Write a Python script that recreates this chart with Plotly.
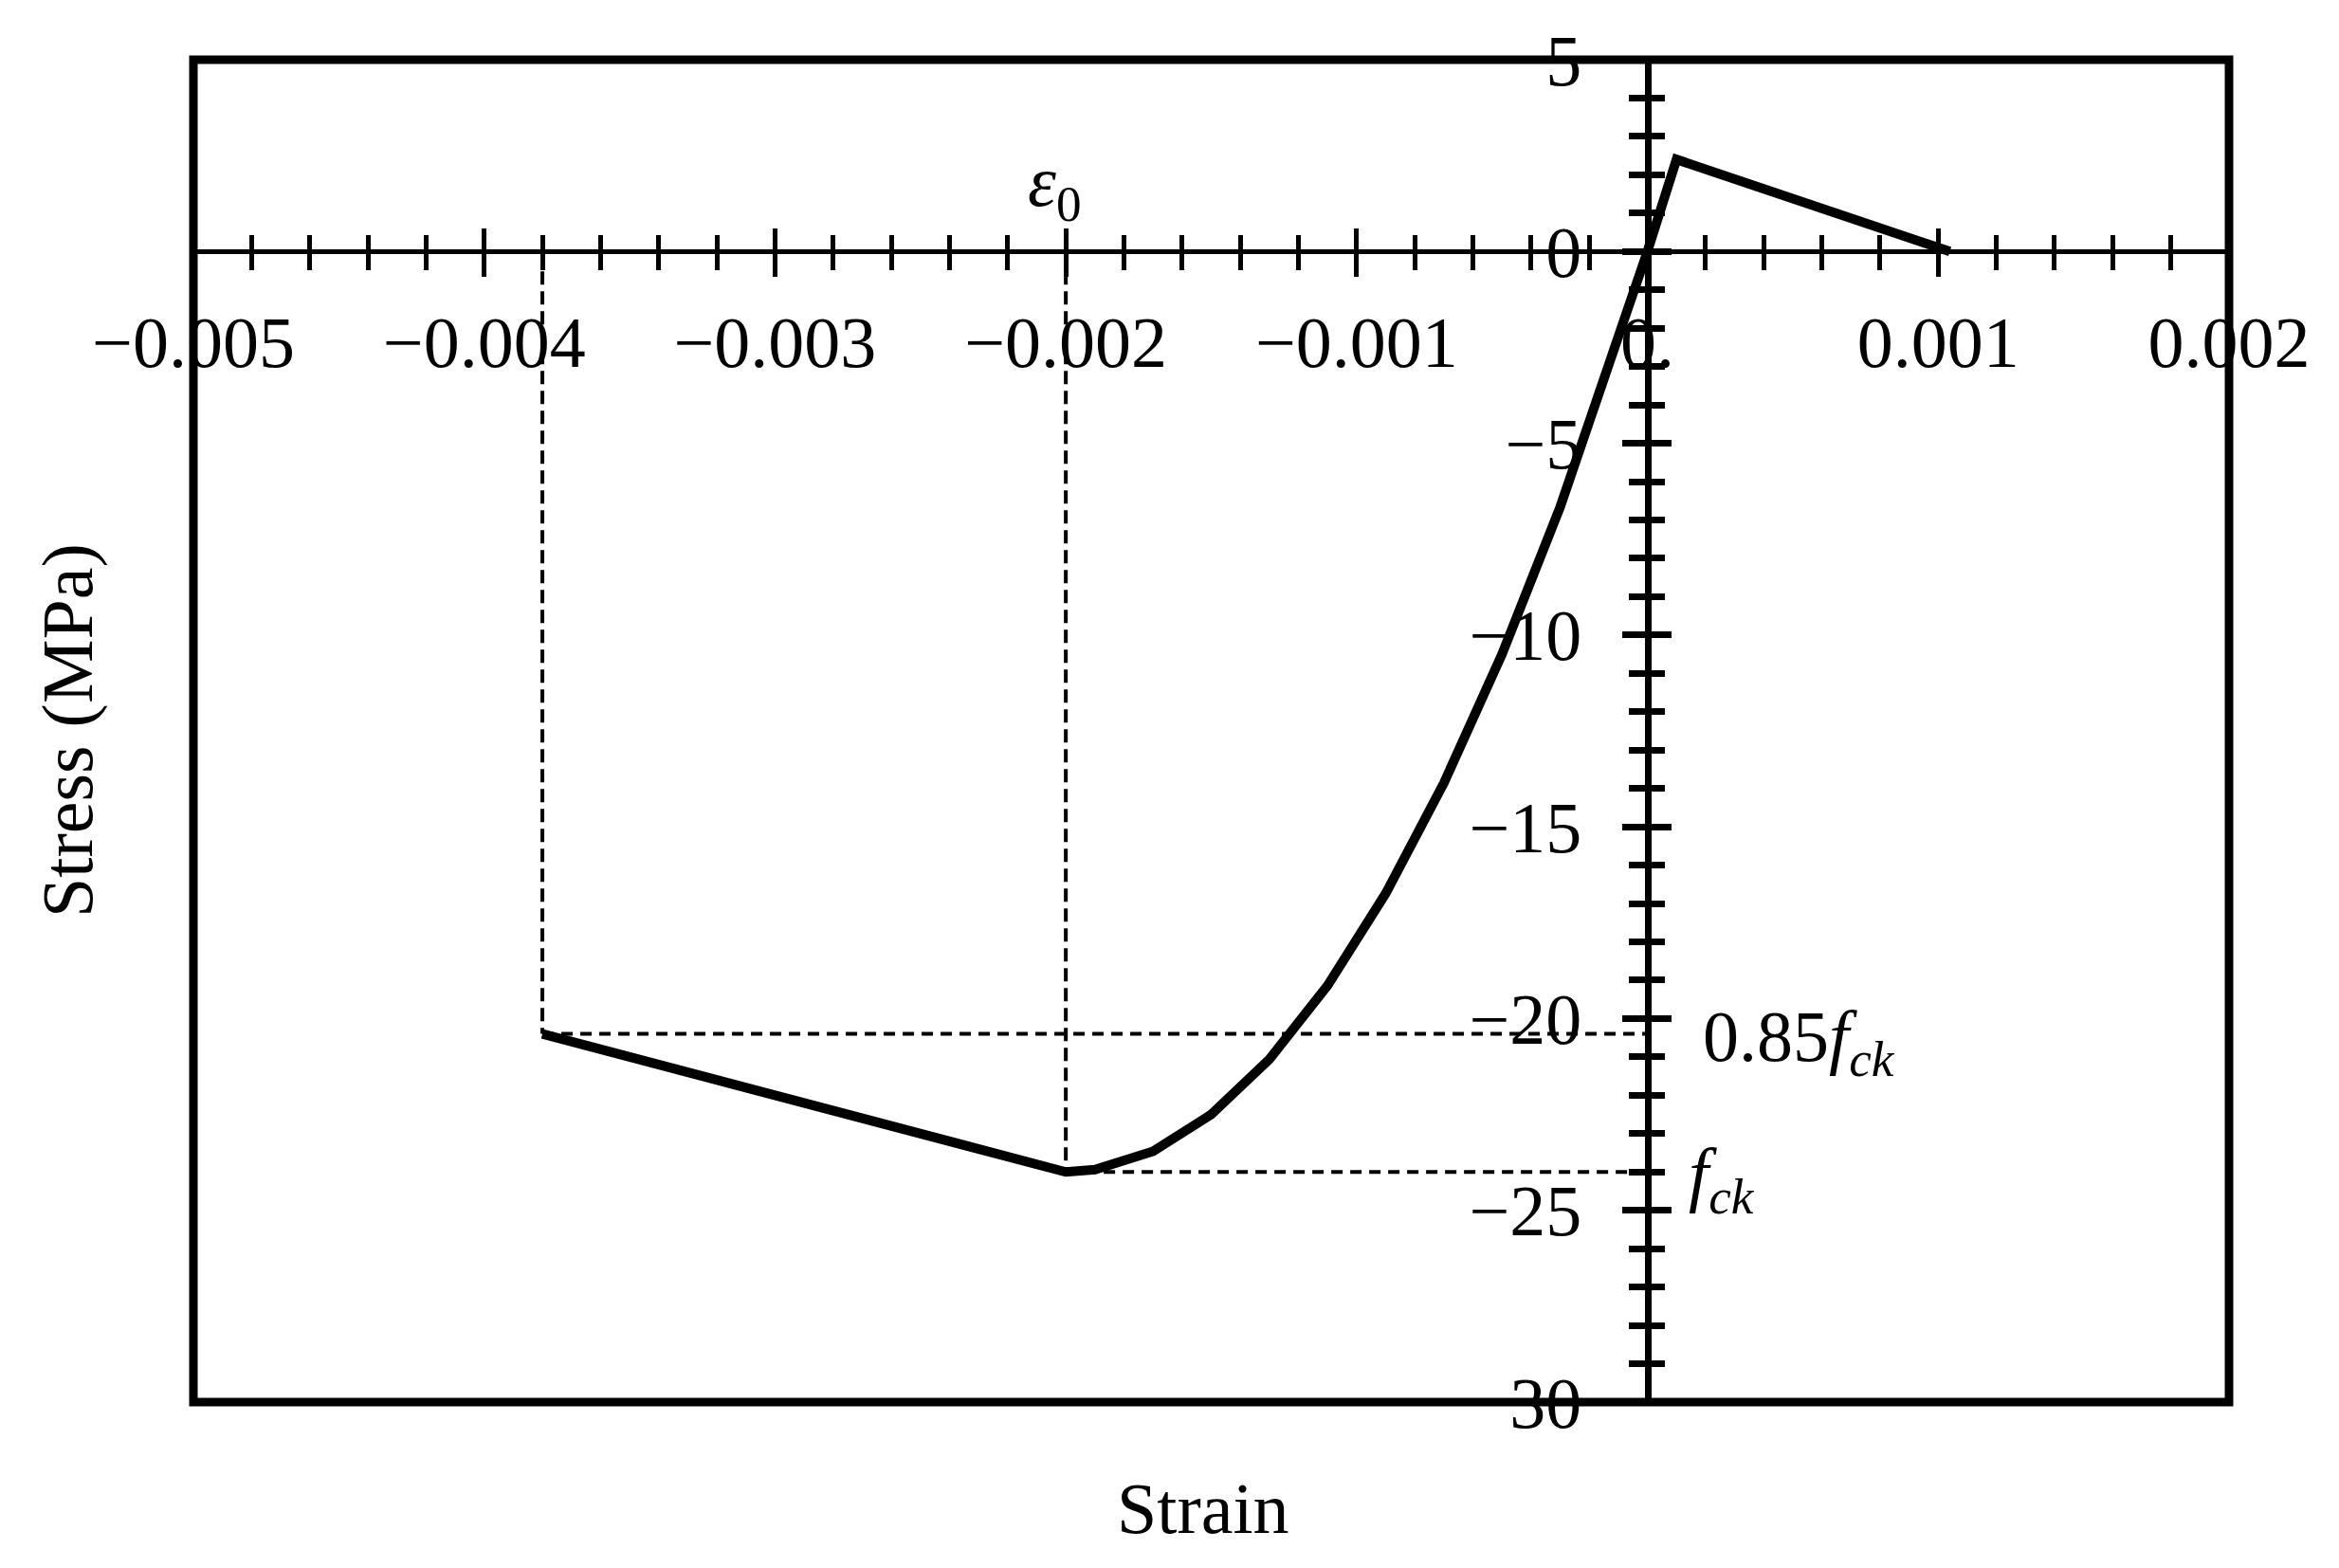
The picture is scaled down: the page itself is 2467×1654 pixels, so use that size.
import plotly.graph_objects as go

# ---------------- data ----------------
# stress-strain curve: compression branch (linear softening + parabola) and tension branch
curve_strain = [-0.0038, -0.0020, -0.0019, -0.0017, -0.0015, -0.0013, -0.0011,
                -0.0009, -0.0007, -0.0005, -0.0003, -0.0001, 0.0, 0.0001, 0.00104]
curve_stress = [-20.4, -24.0, -23.94, -23.46, -22.5, -21.06, -19.14,
                -16.74, -13.86, -10.5, -6.66, -2.34, 0.0, 2.4, 0.0]

eps_0 = -0.002      # strain at peak stress
eps_cu = -0.0038    # ultimate strain
f_ck = -24.0        # peak compressive stress
f_085 = -20.4       # 0.85 f_ck

x_tickvals = [-0.005, -0.004, -0.003, -0.002, -0.001, 0.0, 0.001, 0.002]
x_ticktext = ["\u22120.005", "\u22120.004", "\u22120.003", "\u22120.002", "\u22120.001", "0.", "0.001", "0.002"]
y_tickvals = [5, 0, -5, -10, -15, -20, -25, -30]
y_ticktext = ["5", "0", "\u22125", "\u221210", "\u221215", "\u221220", "\u221225", "\u221230"]

x_range = [-0.005, 0.002]
y_range = [-30, 5]

# ---------------- styling ----------------
W, H = 2451, 1638          # page body adds an 8 px margin
FONT = "Liberation Serif, Times New Roman, serif"
FS = 76
xpos = (0 - y_range[0]) / (y_range[1] - y_range[0])   # paper y of the strain axis
ypos = (0 - x_range[0]) / (x_range[1] - x_range[0])   # paper x of the stress axis

fig = go.Figure()

# dashed guide lines
fig.add_trace(go.Scatter(x=[eps_cu, eps_cu], y=[0, f_085], mode="lines",
                         line=dict(color="black", width=4, dash="14px,7px"),
                         showlegend=False, hoverinfo="skip"))
fig.add_trace(go.Scatter(x=[eps_0, eps_0], y=[0, f_ck], mode="lines",
                         line=dict(color="black", width=4, dash="14px,7px"),
                         showlegend=False, hoverinfo="skip"))
fig.add_trace(go.Scatter(x=[eps_cu, 0], y=[f_085, f_085], mode="lines",
                         line=dict(color="black", width=4, dash="12px,8px"),
                         showlegend=False, hoverinfo="skip"))
fig.add_trace(go.Scatter(x=[eps_0, 0], y=[f_ck, f_ck], mode="lines",
                         line=dict(color="black", width=4, dash="12px,8px"),
                         showlegend=False, hoverinfo="skip"))

# main curve
fig.add_trace(go.Scatter(x=curve_strain, y=curve_stress, mode="lines",
                         line=dict(color="black", width=10),
                         showlegend=False))

# dummy trace for the overlay axes (inside half of crossing ticks)
fig.add_trace(go.Scatter(x=[None], y=[None], xaxis="x2", yaxis="y2",
                         showlegend=False, hoverinfo="skip"))

tickfont = dict(family=FONT, size=FS, color="black")

fig.update_layout(
    width=W, height=H,
    margin=dict(l=196, r=108, t=55, b=167, pad=0),
    paper_bgcolor="white", plot_bgcolor="white",
    font=dict(family=FONT, size=FS, color="black"),
    xaxis=dict(range=x_range, anchor="free", position=xpos,
               showline=True, linecolor="black", linewidth=5,
               ticks="outside", tickmode="array", tickvals=x_tickvals, ticktext=x_ticktext,
               ticklen=24, tickwidth=5, tickcolor="black",
               minor=dict(dtick=0.0002, tick0=-0.005, ticks="outside", ticklen=17,
                          tickwidth=5, tickcolor="black", showgrid=False),
               showgrid=False, zeroline=False, tickfont=tickfont,
               ticklabelstandoff=4, layer="below traces"),
    xaxis2=dict(range=x_range, overlaying="x", anchor="free", position=xpos,
                showline=False, ticks="inside", tickmode="array", tickvals=x_tickvals,
                ticklen=24, tickwidth=5, tickcolor="black",
                minor=dict(dtick=0.0002, tick0=-0.005, ticks="inside", ticklen=17,
                           tickwidth=5, tickcolor="black", showgrid=False),
                showticklabels=False, showgrid=False, zeroline=False,
                layer="below traces"),
    yaxis=dict(range=y_range, anchor="free", position=ypos, side="left",
               showline=True, linecolor="black", linewidth=7,
               ticks="outside", tickmode="array", tickvals=y_tickvals, ticktext=y_ticktext,
               ticklen=24, tickwidth=7, tickcolor="black",
               minor=dict(dtick=1, tick0=0, ticks="outside", ticklen=17,
                          tickwidth=7, tickcolor="black", showgrid=False),
               showgrid=False, zeroline=False, tickfont=tickfont,
               ticklabelstandoff=27, layer="below traces"),
    yaxis2=dict(range=y_range, overlaying="y", anchor="free", position=ypos, side="left",
                showline=False, ticks="inside", tickmode="array", tickvals=y_tickvals,
                ticklen=24, tickwidth=7, tickcolor="black",
                minor=dict(dtick=1, tick0=0, ticks="inside", ticklen=17,
                           tickwidth=7, tickcolor="black", showgrid=False),
                showticklabels=False, showgrid=False, zeroline=False,
                layer="below traces"),
    shapes=[dict(type="rect", xref="paper", yref="paper", x0=0, x1=1, y0=0, y1=1,
                 line=dict(color="black", width=9), layer="above")],
    annotations=[
        dict(text="Strain", xref="paper", yref="paper", x=0.5, y=0, xshift=-9, yshift=-112,
             xanchor="center", yanchor="middle", showarrow=False,
             font=dict(family=FONT, size=FS, color="black")),
        dict(text="Stress (MPa)", xref="paper", yref="paper", x=0, y=0.5, xshift=-133,
             xanchor="center", yanchor="middle", textangle=-90, showarrow=False,
             font=dict(family=FONT, size=FS, color="black")),
        dict(text="<i>\u03b5</i><sub>0</sub>", xref="x", yref="y", x=eps_0, y=0,
             xshift=-12, yshift=68, xanchor="center", yanchor="middle", showarrow=False,
             font=dict(family=FONT, size=FS, color="black")),
        dict(text="0.85<i>f</i><sub><i>ck</i></sub>", xref="x", yref="y", x=0, y=f_085,
             xshift=56, yshift=-8, xanchor="left", yanchor="middle", showarrow=False,
             font=dict(family=FONT, size=FS, color="black")),
        dict(text="<i>f</i><sub><i>ck</i></sub>", xref="x", yref="y", x=0, y=f_ck,
             xshift=41, yshift=-8, xanchor="left", yanchor="middle", showarrow=False,
             font=dict(family=FONT, size=FS, color="black")),
    ],
)

fig.write_html("out.html")
